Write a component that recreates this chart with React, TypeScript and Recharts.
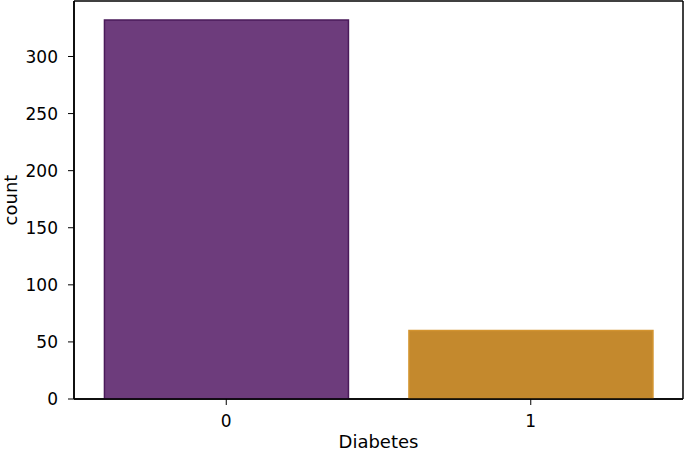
import { BarChart, Bar, Cell, XAxis, YAxis, CartesianGrid } from "recharts";

const categories = ["0", "1"];
const counts = [332, 60];
const yTicks = [0, 50, 100, 150, 200, 250, 300];

const FILLS = ["#6d3c7c", "#c4892d"];
const EDGES = ["#4a1a5a", "#d39430"];

const FONT = "'DejaVu Sans', sans-serif";

// full box frame around the plot area (matplotlib spines)
const frameRows = ({ offset }: any) => [offset.top, offset.top + offset.height];
const frameCols = ({ offset }: any) => [offset.left, offset.left + offset.width];

export default function App() {
  const data = categories.map((c, i) => ({ name: c, count: counts[i] }));

  return (
    <div style={{ position: "absolute", left: 0, top: 0, width: 685, height: 454, background: "#fff" }}>
      <BarChart
        width={685}
        height={454}
        data={data}
        margin={{ top: 1, right: 2, bottom: 0, left: 0 }}
        barCategoryGap="10%"
      >
        <CartesianGrid
          stroke="#000"
          strokeWidth={1.5}
          horizontalCoordinatesGenerator={frameRows}
          verticalCoordinatesGenerator={frameCols}
        />
        <XAxis
          dataKey="name"
          height={55}
          tickLine={{ stroke: "#000" }}
          tickSize={6}
          tickMargin={10}
          axisLine={{ stroke: "#000", strokeWidth: 1.5 }}
          tick={{ fill: "#000", fontSize: 17, fontFamily: FONT }}
          label={{ value: "Diabetes", position: "insideBottom", offset: 6, fill: "#000", fontSize: 18, fontFamily: FONT }}
        />
        <YAxis
          width={74}
          domain={[0, 348.6]}
          ticks={yTicks}
          allowDataOverflow
          tickLine={{ stroke: "#000" }}
          tickSize={6}
          tickMargin={10}
          axisLine={{ stroke: "#000", strokeWidth: 1.5 }}
          tick={{ fill: "#000", fontSize: 17, fontFamily: FONT }}
          label={{ value: "count", angle: -90, position: "center", dx: -26, fill: "#000", fontSize: 18, fontFamily: FONT }}
        />
        <Bar dataKey="count" isAnimationActive={false} strokeWidth={1.5}>
          {data.map((d, i) => (
            <Cell key={d.name} fill={FILLS[i]} stroke={EDGES[i]} />
          ))}
        </Bar>
      </BarChart>
    </div>
  );
}
